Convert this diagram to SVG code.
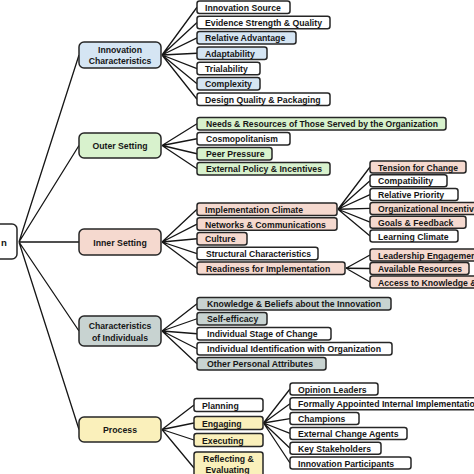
<svg xmlns="http://www.w3.org/2000/svg" width="474" height="474" viewBox="0 0 474 474">
<style>
rect{stroke:#262626;stroke-width:1.5}
.s{rx:2.5}
.L{rx:5}
.w{fill:#ffffff}
.b{fill:#d5e5f3}
.g{fill:#d8f2cd}
.p{fill:#f5d9cf}
.y{fill:#c8d3d1}
.o{fill:#faf0bb}
text{font-family:"Liberation Sans",Arial,sans-serif;font-weight:bold;font-size:9.6px;fill:#161616}
.c{text-anchor:middle}
#connectors path{fill:none;stroke:#161616;stroke-width:1.3}
</style>
<rect width="474" height="474" fill="#ffffff" style="stroke:none"/>
<g id="connectors">
<path d="M19 242L79 55M19 242L79 145.5M19 242H79M19 242L79 331M19 242L79 429.5"/>
<path d="M162 55L197 7.25M162 55L197 22.55M162 55L197 37.85M162 55L197 53.25M162 55L197 68.55M162 55L197 83.85M162 55L197 99.25"/>
<path d="M162 145.5L197 123.75M162 145.5L197 138.75M162 145.5L197 153.75M162 145.5L197 168.75"/>
<path d="M162 242L197 209.25M162 242L197 224.05M162 242L197 238.75M162 242L197 253.55M162 242L197 268.25"/>
<path d="M338 209.25L370 167M338 209.25L370 180.8M338 209.25L370 194.6M338 209.25L370 208.4M338 209.25L370 222.2M338 209.25L370 236"/>
<path d="M346 268.25L370 255M346 268.25L370 268.5M346 268.25L370 282"/>
<path d="M162 331L197 303.75M162 331L197 318.75M162 331L197 333.75M162 331L197 348.75M162 331L197 363.75"/>
<path d="M162 429.5L194 405M162 429.5L194 423M162 429.5L194 440M162 429.5L194 468"/>
<path d="M263.5 423L290 389M263.5 423L290 403.8M263.5 423L290 418.6M263.5 423L290 433.4M263.5 423L290 448.2M263.5 423L290 463"/>
</g>
<g id="root"><rect class="L w" x="-40" y="224" width="57" height="35"/><text x="1" y="245.5">n</text></g>
<g id="innovation-characteristics"><rect class="L b" x="79" y="42" width="82" height="26"/><text class="c" x="120" y="52.5" textLength="44" lengthAdjust="spacingAndGlyphs">Innovation</text><text class="c" x="120" y="64" textLength="62.5" lengthAdjust="spacingAndGlyphs">Characteristics</text></g>
<g id="outer-setting"><rect class="L g" x="79" y="133" width="82" height="25"/><text class="c" x="120" y="149" textLength="55" lengthAdjust="spacingAndGlyphs">Outer Setting</text></g>
<g id="inner-setting"><rect class="L p" x="79" y="229" width="82" height="26"/><text class="c" x="120" y="245.5" textLength="53.5" lengthAdjust="spacingAndGlyphs">Inner Setting</text></g>
<g id="characteristics-of-individuals"><rect class="L y" x="79" y="316" width="82" height="30"/><text class="c" x="120" y="328.5" textLength="62.5" lengthAdjust="spacingAndGlyphs">Characteristics</text><text class="c" x="120" y="341" textLength="56" lengthAdjust="spacingAndGlyphs">of Individuals</text></g>
<g id="process"><rect class="L o" x="79" y="417" width="82" height="25"/><text class="c" x="120" y="433" textLength="34" lengthAdjust="spacingAndGlyphs">Process</text></g>

<g id="innovation-source"><rect class="s w" x="197" y="1" width="93" height="12.5"/><text x="205" y="10.7" textLength="75.9" lengthAdjust="spacingAndGlyphs">Innovation Source</text></g>
<g id="evidence-strength"><rect class="s w" x="197" y="16.3" width="133" height="12.5"/><text x="205" y="26" textLength="117" lengthAdjust="spacingAndGlyphs">Evidence Strength &amp; Quality</text></g>
<g id="relative-advantage"><rect class="s b" x="197" y="31.6" width="99" height="12.5"/><text x="205" y="41.3" textLength="80.3" lengthAdjust="spacingAndGlyphs">Relative Advantage</text></g>
<g id="adaptability"><rect class="s b" x="197" y="47" width="70" height="12.5"/><text x="205" y="56.7" textLength="49.8" lengthAdjust="spacingAndGlyphs">Adaptability</text></g>
<g id="trialability"><rect class="s w" x="197" y="62.3" width="63" height="12.5"/><text x="205" y="72" textLength="42.7" lengthAdjust="spacingAndGlyphs">Trialability</text></g>
<g id="complexity"><rect class="s b" x="197" y="77.6" width="63" height="12.5"/><text x="205" y="87.3" textLength="46.9" lengthAdjust="spacingAndGlyphs">Complexity</text></g>
<g id="design-quality"><rect class="s w" x="197" y="93" width="133" height="12.5"/><text x="205" y="102.7" textLength="115.6" lengthAdjust="spacingAndGlyphs">Design Quality &amp; Packaging</text></g>

<g id="needs-resources"><rect class="s g" x="197" y="117.5" width="249" height="12.5"/><text x="206" y="127.2" textLength="232" lengthAdjust="spacingAndGlyphs">Needs &amp; Resources of Those Served by the Organization</text></g>
<g id="cosmopolitanism"><rect class="s w" x="197" y="132.5" width="93" height="12.5"/><text x="206" y="142.2" textLength="72" lengthAdjust="spacingAndGlyphs">Cosmopolitanism</text></g>
<g id="peer-pressure"><rect class="s g" x="197" y="147.5" width="75" height="12.5"/><text x="206" y="157.2" textLength="58.5" lengthAdjust="spacingAndGlyphs">Peer Pressure</text></g>
<g id="external-policy"><rect class="s g" x="197" y="162.5" width="133" height="12.5"/><text x="206" y="172.2" textLength="116" lengthAdjust="spacingAndGlyphs">External Policy &amp; Incentives</text></g>

<g id="implementation-climate"><rect class="s p" x="197" y="203" width="140" height="12.5"/><text x="205" y="212.7" textLength="98.1" lengthAdjust="spacingAndGlyphs">Implementation Climate</text></g>
<g id="networks-communications"><rect class="s p" x="197" y="217.8" width="140" height="12.5"/><text x="205" y="227.5" textLength="120.9" lengthAdjust="spacingAndGlyphs">Networks &amp; Communications</text></g>
<g id="culture"><rect class="s p" x="197" y="232.5" width="50" height="12.5"/><text x="205" y="242.2" textLength="30.5" lengthAdjust="spacingAndGlyphs">Culture</text></g>
<g id="structural-characteristics"><rect class="s w" x="197" y="247.3" width="121" height="12.5"/><text x="206" y="257" textLength="105" lengthAdjust="spacingAndGlyphs">Structural Characteristics</text></g>
<g id="readiness"><rect class="s p" x="197" y="262" width="148" height="12.5"/><text x="206" y="271.7" textLength="124.2" lengthAdjust="spacingAndGlyphs">Readiness for Implementation</text></g>

<g id="tension-for-change"><rect class="s p" x="370" y="161" width="96" height="12"/><text x="378" y="170.5" textLength="80" lengthAdjust="spacingAndGlyphs">Tension for Change</text></g>
<g id="compatibility"><rect class="s w" x="370" y="174.8" width="77" height="12"/><text x="378" y="184.3" textLength="55.1" lengthAdjust="spacingAndGlyphs">Compatibility</text></g>
<g id="relative-priority"><rect class="s w" x="370" y="188.6" width="88" height="12"/><text x="378" y="198.1" textLength="66.2" lengthAdjust="spacingAndGlyphs">Relative Priority</text></g>
<g id="organizational-incentives"><rect class="s p" x="370" y="202.4" width="171" height="12"/><text x="378" y="211.9" textLength="152.8" lengthAdjust="spacingAndGlyphs">Organizational Incentives &amp; Rewards</text></g>
<g id="goals-feedback"><rect class="s p" x="370" y="216.2" width="96" height="12"/><text x="378" y="225.7" textLength="75.4" lengthAdjust="spacingAndGlyphs">Goals &amp; Feedback</text></g>
<g id="learning-climate"><rect class="s w" x="370" y="230" width="88" height="12"/><text x="378" y="239.5" textLength="70.6" lengthAdjust="spacingAndGlyphs">Learning Climate</text></g>

<g id="leadership-engagement"><rect class="s p" x="370" y="249" width="119" height="12"/><text x="378" y="258.5" textLength="101.2" lengthAdjust="spacingAndGlyphs">Leadership Engagement</text></g>
<g id="available-resources"><rect class="s p" x="370" y="262.5" width="99" height="12"/><text x="378" y="272" textLength="84" lengthAdjust="spacingAndGlyphs">Available Resources</text></g>
<g id="access-to-knowledge"><rect class="s p" x="370" y="276" width="167" height="12"/><text x="378" y="285.5" textLength="148.9" lengthAdjust="spacingAndGlyphs">Access to Knowledge &amp; Information</text></g>

<g id="knowledge-beliefs"><rect class="s y" x="197" y="297.5" width="194" height="12.5"/><text x="207" y="307.2" textLength="174" lengthAdjust="spacingAndGlyphs">Knowledge &amp; Beliefs about the Innovation</text></g>
<g id="self-efficacy"><rect class="s y" x="197" y="312.5" width="70" height="12.5"/><text x="207" y="322.2" textLength="51.3" lengthAdjust="spacingAndGlyphs">Self-efficacy</text></g>
<g id="stage-of-change"><rect class="s w" x="197" y="327.5" width="134" height="12.5"/><text x="207" y="337.2" textLength="110.5" lengthAdjust="spacingAndGlyphs">Individual Stage of Change</text></g>
<g id="identification"><rect class="s w" x="197" y="342.5" width="195" height="12.5"/><text x="207" y="352.2" textLength="174" lengthAdjust="spacingAndGlyphs">Individual Identification with Organization</text></g>
<g id="other-attributes"><rect class="s y" x="197" y="357.5" width="129" height="12.5"/><text x="207" y="367.2" textLength="106" lengthAdjust="spacingAndGlyphs">Other Personal Attributes</text></g>

<g id="planning"><rect class="s w" x="194" y="398.5" width="69" height="13"/><text x="202" y="408.5" textLength="36.7" lengthAdjust="spacingAndGlyphs">Planning</text></g>
<g id="engaging"><rect class="s o" x="194" y="416.5" width="69" height="13"/><text x="202" y="426.5" textLength="39.6" lengthAdjust="spacingAndGlyphs">Engaging</text></g>
<g id="executing"><rect class="s o" x="194" y="433.5" width="69" height="13"/><text x="202" y="443.5" textLength="41.6" lengthAdjust="spacingAndGlyphs">Executing</text></g>
<g id="reflecting-evaluating"><rect class="s o" x="194" y="452" width="69" height="32"/><text class="c" x="228.5" y="462" textLength="50.8" lengthAdjust="spacingAndGlyphs">Reflecting &amp;</text><text class="c" x="227.5" y="473" textLength="44" lengthAdjust="spacingAndGlyphs">Evaluating</text></g>

<g id="opinion-leaders"><rect class="s w" x="290" y="383" width="88" height="12"/><text x="298" y="392.5" textLength="68.7" lengthAdjust="spacingAndGlyphs">Opinion Leaders</text></g>
<g id="formally-appointed"><rect class="s w" x="290" y="397.8" width="236" height="12"/><text x="298" y="407.3" textLength="218" lengthAdjust="spacingAndGlyphs">Formally Appointed Internal Implementation Leaders</text></g>
<g id="champions"><rect class="s w" x="290" y="412.6" width="69" height="12"/><text x="298" y="422.1" textLength="47.4" lengthAdjust="spacingAndGlyphs">Champions</text></g>
<g id="external-change-agents"><rect class="s w" x="290" y="427.4" width="117" height="12"/><text x="298" y="436.9" textLength="100.6" lengthAdjust="spacingAndGlyphs">External Change Agents</text></g>
<g id="key-stakeholders"><rect class="s w" x="290" y="442.2" width="91" height="12"/><text x="298" y="451.7" textLength="73" lengthAdjust="spacingAndGlyphs">Key Stakeholders</text></g>
<g id="innovation-participants"><rect class="s w" x="290" y="457" width="121" height="12"/><text x="298" y="466.5" textLength="96.2" lengthAdjust="spacingAndGlyphs">Innovation Participants</text></g>
</svg>
